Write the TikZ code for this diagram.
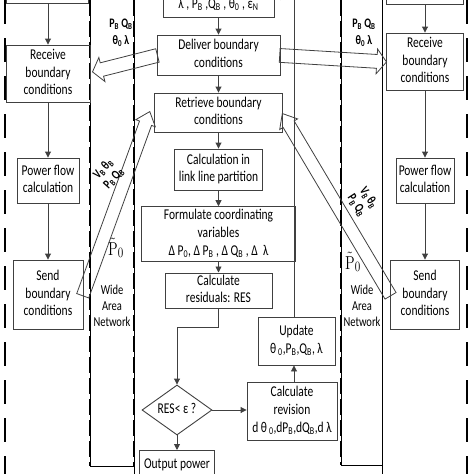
\documentclass[tikz,border=0pt]{standalone}
\usepackage[no-math]{fontspec}
\setmainfont{Carlito}
\usepackage{graphicx}
\usetikzlibrary{arrows.meta,shapes.geometric,shapes.arrows}
\newcommand\tall[1]{\scalebox{1}[1.3]{\begin{tabular}{@{}c@{}}#1\end{tabular}}}

\begin{document}
\begin{tikzpicture}[x=1pt,y=-1pt,
  box/.style={draw=black!75,line width=0.9pt,align=center,inner sep=1pt,font=\fontsize{11.5}{13.5}\selectfont},
  dec/.style={box,diamond,shape aspect=1.4,inner sep=0pt},
  arr/.style={draw=black!75,line width=0.9pt,-{Triangle[length=6pt,width=6pt]}},
  hollow/.style={single arrow,draw=black!75,line width=0.8pt,inner xsep=0pt,inner ysep=6.5pt,minimum width=24pt,single arrow head extend=5.5pt,single arrow tip angle=104},
  slim/.style={hollow,inner ysep=6pt,minimum width=20pt,single arrow head extend=4pt,single arrow tip angle=80},
  wan/.style={font=\fontsize{10.5}{12.3}\selectfont,align=center},
  bnd/.style={font=\bfseries\fontsize{10}{13}\selectfont,align=center},
  edge/.style={black,line width=2pt,dash pattern=on 16pt off 5pt},
  side/.style={black,line width=1.3pt,dash pattern=on 24pt off 14pt}]
\clip (0,0) rectangle (474,474);

\draw[line width=0.8pt] (90,0) -- (90,466) -- (134,466);
\draw[line width=0.8pt] (134,0) -- (134,474);
\draw[edge] (90,0) -- (90,466);
\draw[edge] (134,0) -- (134,466);
\draw[line width=0.8pt] (341,0) -- (341,465) -- (382,465);
\draw[line width=0.8pt] (382,0) -- (382,474);
\draw[edge] (341,0) -- (341,465);
\draw[side] (5,0) -- (5,474);
\draw[side] (467,0) -- (467,474);

\node[box,minimum width=82pt,minimum height=30pt] (topL) at (47,-12) {};
\node[box,minimum width=77pt,minimum height=30pt] (topR) at (425,-11) {};
\node[box,minimum width=111pt,minimum height=40pt] (init) at (218.5,-3) {};
\node[font=\fontsize{11.5}{13.5}\selectfont] (initv) at (218.5,5) {\tall{λ , P\textsubscript{B} ,Q\textsubscript{B} , θ\textsubscript{0} , ε\textsubscript{N}}};

\node[box,minimum width=123pt,minimum height=40pt] (deliver) at (218.5,55) {\tall{Deliver boundary\\conditions}};
\node[box,minimum width=128pt,minimum height=39pt] (retrieve) at (218.5,112.5) {\tall{Retrieve boundary\\conditions}};
\node[box,minimum width=88pt,minimum height=41pt] (link) at (218.5,169.5) {\tall{Calculation in\\link line partition}};
\node[box,minimum width=154pt,minimum height=54pt] (coord) at (218.5,234) {\tall{Formulate coordinating\\variables\\Δ P\textsubscript{0}, Δ P\textsubscript{B} , Δ Q\textsubscript{B} , Δ ~λ}};
\node[box,minimum width=107pt,minimum height=31pt,inner sep=0pt] (res) at (218.5,290.5) {\tall{Calculate\\residuals: RES}};
\node[dec,minimum width=70pt,minimum height=50pt] (check) at (177,410) {\tall{RES< ε ?}};
\node[box,minimum width=90pt,minimum height=58pt] (rev) at (292,411) {\tall{Calculate\\revision\\d θ\,\textsubscript{0},dP\textsubscript{B},dQ\textsubscript{B},d λ}};
\node[box,minimum width=77pt,minimum height=48pt] (upd) at (296.5,341) {\tall{Update\\θ\,\textsubscript{0},P\textsubscript{B},Q\textsubscript{B}, λ}};
\node[box,minimum width=75pt,minimum height=30pt,anchor=north] (out) at (177,450) {\tall{Output power}};

\node[box,minimum width=84pt,minimum height=57pt] (recvL) at (48,73.5) {\tall{Receive\\boundary\\conditions}};
\node[box,minimum width=62pt,minimum height=45pt] (pfL) at (48,180.5) {\tall{Power flow\\calculation}};
\node[box,minimum width=70pt,minimum height=69pt] (sendL) at (48,294.5) {\tall{Send\\boundary\\conditions}};
\node[box,minimum width=77pt,minimum height=57pt] (recvR) at (425,61.5) {\tall{Receive\\boundary\\conditions}};
\node[box,minimum width=58pt,minimum height=45pt] (pfR) at (425,180.5) {\tall{Power flow\\calculation}};
\node[box,minimum width=69pt,minimum height=69pt] (sendR) at (425,294.5) {\tall{Send\\boundary\\conditions}};

\draw[arr] (topL.south -| recvL) -- (recvL);
\draw[arr] (recvL) -- (pfL);
\draw[arr] (pfL) -- (sendL);
\draw[arr] (topR) -- (recvR);
\draw[arr] (recvR) -- (pfR);
\draw[arr] (pfR) -- (sendR);

\draw[arr] (init) -- (deliver);
\draw[arr] (deliver) -- (retrieve);
\draw[arr] (retrieve) -- (link);
\draw[arr] (link) -- (coord);
\draw[arr] (coord) -- (res);
\draw[arr] (res.south) -- ++(0,19) -| (check.north);
\draw[arr] (check.east) -- (check.east -| rev.west);
\draw[arr] (check.south) -- (out.north);
\coordinate (loop) at (294,0);
\draw[arr] (rev.north -| loop) -- (upd.south -| loop);
\draw[arr] (upd.north -| loop) |- (init.east);

\node[hollow,minimum height=67pt,rotate=194.2,anchor=tip] (toL) at (92,72) {};
\node[hollow,minimum height=107pt,rotate=-3.5,anchor=tip] (toR) at (387,62) {};
\node[slim,minimum height=196pt,rotate=70,anchor=tip] (fromL) at (150,111) {};
\node[slim,minimum height=212pt,rotate=120.7,anchor=tip] (fromR) at (282,113) {};

\node[bnd] (pqL) at (121,33) {\tall{P\textsubscript{B} Q\textsubscript{B}\\θ\textsubscript{0} λ}};
\node[bnd] (pqR) at (364,33) {\tall{P\textsubscript{B} Q\textsubscript{B}\\θ\textsubscript{0} λ}};
\node[bnd,font=\bfseries\fontsize{10}{11}\selectfont,rotate=48] (vL) at (109,174) {\tall{V\textsubscript{B} θ\textsubscript{B}\\P\textsubscript{B} Q\textsubscript{B}}};
\node[bnd,font=\bfseries\fontsize{10}{11}\selectfont,rotate=-57] (vR) at (362,202) {\tall{V\textsubscript{B} θ\textsubscript{B}\\P\textsubscript{B} Q\textsubscript{B}}};
\node[font=\fontsize{15}{18}\selectfont] (p0L) at (116,248) {\scalebox{1}[1.3]{$\tilde{\mathrm{P}}_0$}};
\node[font=\fontsize{15}{18}\selectfont] (p0R) at (353,262) {\scalebox{1}[1.3]{$\tilde{\mathrm{P}}_0$}};
\node[wan] (wanL) at (112,307) {\tall{Wide\\Area\\Network}};
\node[wan] (wanR) at (362,307) {\tall{Wide\\Area\\Network}};
\end{tikzpicture}
\end{document}
